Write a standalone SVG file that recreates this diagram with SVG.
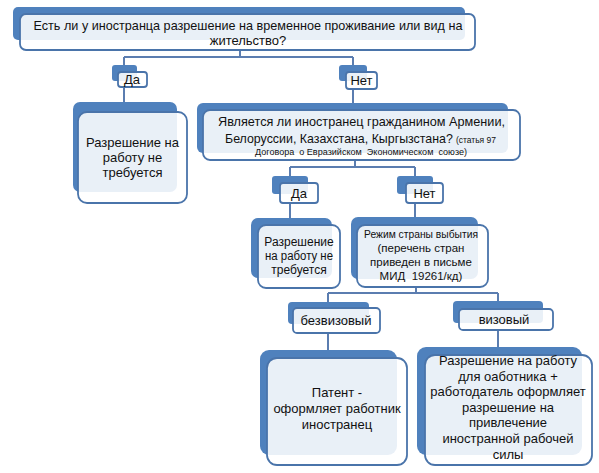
<svg xmlns="http://www.w3.org/2000/svg" width="599" height="473" viewBox="0 0 599 473">
<style>
.back{fill:#4f81bd}
.front{fill:#fff;fill-opacity:0.88;stroke:#4a74aa;stroke-width:1.8}
.conn{stroke:#5b7db0;stroke-width:2;fill:none}
text{font-family:"Liberation Sans",Arial,sans-serif;font-size:13px;fill:#111;text-anchor:middle}
.sm{font-size:8.5px;white-space:pre}
.s12{font-size:12px}
.s115{font-size:11.5px;white-space:pre}
</style>
<rect width="599" height="473" fill="#fff"/>
<g id="connectors">
<path class="conn" d="M240 50V57M124 57H353M124 57V66M353 57V66"/>
<path class="conn" d="M124 87V102M353 89V103"/>
<path class="conn" d="M355 160V167M290 167H415M290 167V177M415 167V177"/>
<path class="conn" d="M290 203V218M415 203V217"/>
<path class="conn" d="M416 287V293M328 293H498M328 293V302M498 293V301"/>
<path class="conn" d="M328 333V350M498 330V347"/>
</g>
<g id="n-top">
<rect class="back" x="13" y="7" width="452" height="33" rx="5"/>
<rect class="front" x="20" y="14" width="455" height="36" rx="6"/>
<text x="248" y="30" textLength="429" lengthAdjust="spacingAndGlyphs">Есть ли у иностранца разрешение на временное проживание или вид на</text>
<text x="248" y="45">жительство?</text>
</g>
<g id="n-da1">
<rect class="back" x="112" y="65" width="25" height="16" rx="3"/>
<rect class="front" x="118" y="72" width="29" height="15" rx="3"/>
<text x="132" y="84">Да</text>
</g>
<g id="n-net1">
<rect class="back" x="339" y="65" width="28" height="16" rx="3"/>
<rect class="front" x="346" y="72" width="31" height="17" rx="3"/>
<text x="361.5" y="85">Нет</text>
</g>
<g id="n-left">
<rect class="back" x="73" y="102" width="104" height="90" rx="7"/>
<rect class="front" x="78" y="112" width="109" height="91" rx="9"/>
<text x="132.5" y="147">Разрешение на</text>
<text x="132.5" y="162">работу не</text>
<text x="132.5" y="177">требуется</text>
</g>
<g id="n-mid">
<rect class="back" x="197" y="103" width="311" height="50" rx="6"/>
<rect class="front" x="203" y="110" width="317" height="50" rx="7"/>
<text x="361.5" y="126" textLength="287" lengthAdjust="spacingAndGlyphs">Является ли иностранец гражданином Армении,</text>
<text x="225" y="143" style="text-anchor:start;font-size:12.4px">Белоруссии, Казахстана, Кыргызстана?<tspan class="sm" dx="3">(статья 97</tspan></text>
<text x="361" y="155" class="sm" textLength="212" lengthAdjust="spacingAndGlyphs">Договора  о Евразийском  Экономическом  союзе)</text>
</g>
<g id="n-da2">
<rect class="back" x="272" y="176" width="36" height="18" rx="3"/>
<rect class="front" x="280" y="183" width="38" height="20" rx="3"/>
<text x="299" y="198">Да</text>
</g>
<g id="n-net2">
<rect class="back" x="397" y="176" width="36" height="18" rx="3"/>
<rect class="front" x="406" y="183" width="37" height="20" rx="3"/>
<text x="424.5" y="198">Нет</text>
</g>
<g id="n-small">
<rect class="back" x="251" y="218" width="81" height="60" rx="7"/>
<rect class="front" x="258" y="225" width="82" height="63" rx="8"/>
<text x="299" y="246" class="s12">Разрешение</text>
<text x="299" y="260" class="s12" textLength="68" lengthAdjust="spacingAndGlyphs">на работу не</text>
<text x="299" y="274" class="s12">требуется</text>
</g>
<g id="n-regime">
<rect class="back" x="351" y="217" width="127" height="62" rx="7"/>
<rect class="front" x="357" y="225" width="131" height="62" rx="8"/>
<text x="421" y="238" class="s115" textLength="114" lengthAdjust="spacingAndGlyphs">Режим страны выбытия</text>
<text x="421" y="252" class="s115">(перечень стран</text>
<text x="421" y="266" class="s115">приведен в письме</text>
<text x="421" y="280" class="s115">МИД  19261/кд)</text>
</g>
<g id="n-bezviz">
<rect class="back" x="288" y="302" width="81" height="22" rx="4"/>
<rect class="front" x="293" y="308" width="87" height="25" rx="4"/>
<text x="336" y="325">безвизовый</text>
</g>
<g id="n-viz">
<rect class="back" x="453" y="301" width="90" height="22" rx="4"/>
<rect class="front" x="459" y="309" width="94" height="21" rx="4"/>
<text x="504" y="324">визовый</text>
</g>
<g id="n-patent">
<rect class="back" x="260" y="350" width="137" height="105" rx="9"/>
<rect class="front" x="267" y="358" width="140" height="107" rx="10"/>
<text x="337" y="397">Патент -</text>
<text x="337" y="413">оформляет работник</text>
<text x="337" y="429">иностранец</text>
</g>
<g id="n-right">
<rect class="back" x="417" y="347" width="165" height="108" rx="9"/>
<rect class="front" x="425" y="355" width="167" height="110" rx="10"/>
<text x="508" y="365">Разрешение на работу</text>
<text x="508" y="381">для оаботника +</text>
<text x="508" y="396">работодатель оформляет</text>
<text x="508" y="412">разрешение на</text>
<text x="508" y="427">привлечение</text>
<text x="508" y="443">иностранной рабочей</text>
<text x="508" y="459">силы</text>
</g>
</svg>
